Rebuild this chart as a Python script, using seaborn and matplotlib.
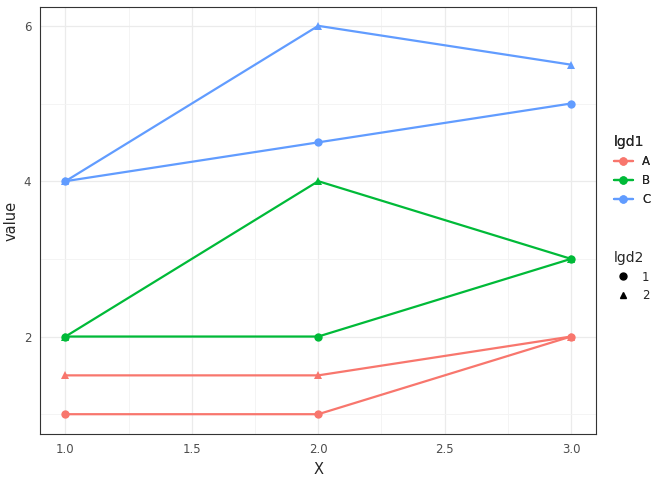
import matplotlib
matplotlib.use("Agg")
import matplotlib.pyplot as plt
import seaborn as sns
import pandas as pd
from matplotlib.lines import Line2D

x = [1, 2, 3]
A1 = [1, 1, 2]
A2 = [1.5, 1.5, 2]
B1 = [2, 2, 3]
B2 = [2, 4, 3]
C1 = [4, 4.5, 5]
C2 = [4, 6, 5.5]

rows = []
for g1, g2, vals in [("A", "1", A1), ("A", "2", A2), ("B", "1", B1), ("B", "2", B2), ("C", "1", C1), ("C", "2", C2)]:
    for xi, v in zip(x, vals):
        rows.append({"X": xi, "value": v, "lgd1": g1, "lgd2": g2})
df = pd.DataFrame(rows)

pal = {"A": "#F8766D", "B": "#00BA38", "C": "#619CFF"}
sns.set_style("white")
plt.rcParams['font.family'] = ['DejaVu Sans']
fig = plt.figure(figsize=(6.7, 4.8), dpi=100)
ax = fig.add_axes([0.06, 0.095, 0.83, 0.89])
sns.lineplot(data=df, x="X", y="value", hue="lgd1", style="lgd2",
             markers={"1": "o", "2": "^"}, dashes=False, palette=pal, ax=ax,
             linewidth=1.6, markersize=6, markeredgewidth=0, legend=False, estimator=None,
             sort=True, err_style=None)
ax.set_xlim(0.9, 3.1)
ax.set_ylim(0.74, 6.24)
ax.set_yticks([2, 4, 6])
ax.set_yticks([1, 3, 5], minor=True)
ax.set_xticks([1.0, 1.5, 2.0, 2.5, 3.0])
ax.set_xticks([1.25, 1.75, 2.25, 2.75], minor=True)
ax.set_xticklabels(["1.0", "1.5", "2.0", "2.5", "3.0"])
ax.grid(True, which="major", color="#EBEBEB", lw=0.9)
ax.grid(True, which="minor", color="#F3F3F3", lw=0.6)
ax.set_axisbelow(True)
for s in ax.spines.values():
    s.set_color("#333333"); s.set_linewidth(0.8)
ax.tick_params(axis="both", which="major", colors="#333333", labelcolor="#4D4D4D", labelsize=8.5, length=3)
ax.tick_params(which="minor", length=0)
ax.set_xlabel("X", fontsize=10.5)
ax.set_ylabel("value", fontsize=10.5)

h1 = [Line2D([], [], color=pal[k], marker="o", lw=1.6, markersize=5) for k in "ABC"]
l1 = fig.legend(h1, list("ABC"), title="lgd1", loc="upper left", bbox_to_anchor=(0.9, 0.74),
                frameon=False, fontsize=8.5, title_fontsize=10, handlelength=1.6, alignment="left")
fig.add_artist(l1)
h2 = [Line2D([], [], color="black", marker=m, lw=0, markersize=5) for m in ["o", "^"]]
fig.legend(h2, ["1", "2"], title="lgd2", loc="upper left", bbox_to_anchor=(0.9, 0.5),
           frameon=False, fontsize=8.5, title_fontsize=10, handlelength=1.6, alignment="left")
fig.savefig("out.png", dpi=100)
